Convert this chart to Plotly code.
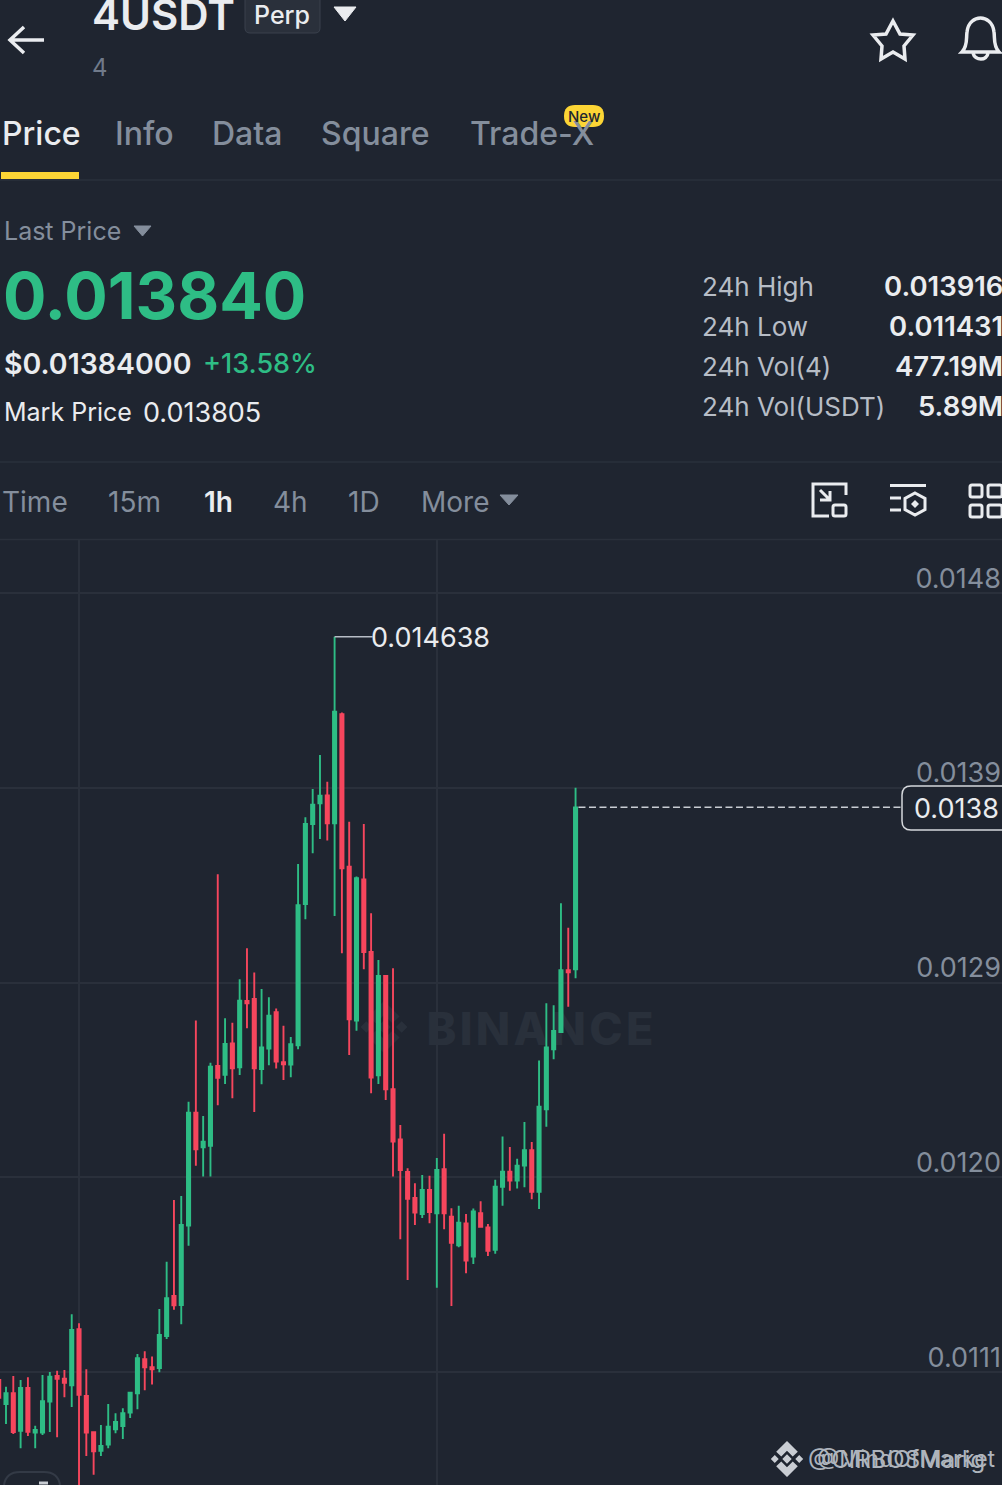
import plotly.graph_objects as go

W, H = 1002, 1485
BG = '#1F2530'
GRID = '#2A303B'
UP = '#2EBD85'
DOWN = '#F6465D'
WHITE = '#EAECEF'
GREY = '#848E9C'
FONT = 'Inter'

# hourly candles
open_prices = [0.011107, 0.010993, 0.011044, 0.010866, 0.011069, 0.010857, 0.010857, 0.011004, 0.011126, 0.011113,
               0.011082, 0.011348, 0.011031, 0.010859, 0.010771, 0.010800, 0.010873, 0.010888, 0.010952, 0.011044,
               0.011205, 0.011167, 0.011164, 0.011316, 0.011506, 0.011463, 0.011840, 0.012377, 0.012212, 0.012219,
               0.012599, 0.012556, 0.012706, 0.012592, 0.012907, 0.012917, 0.012584, 0.012681, 0.012854, 0.012617,
               0.012605, 0.012697, 0.013368, 0.013748, 0.013846, 0.013884, 0.013751, 0.014270, 0.013545, 0.012814,
               0.013485, 0.013140, 0.012554, 0.013026, 0.012488, 0.012250, 0.012095, 0.011971, 0.011895, 0.012009,
               0.011899, 0.012108, 0.011883, 0.011747, 0.011851, 0.011693, 0.011899, 0.011832, 0.011725, 0.012025,
               0.012096, 0.012054, 0.012125, 0.012198, 0.012001, 0.012393, 0.012678, 0.012760, 0.013054, 0.013058]
high_prices = [0.011169, 0.011075, 0.011126, 0.011107, 0.011120, 0.010890, 0.011131, 0.011145, 0.011151, 0.011154,
               0.011419, 0.011376, 0.011158, 0.010859, 0.010893, 0.010993, 0.010949, 0.010973, 0.011051, 0.011230,
               0.011243, 0.011218, 0.011444, 0.011669, 0.011962, 0.011981, 0.012429, 0.012814, 0.012361, 0.012614,
               0.013509, 0.012825, 0.012804, 0.013010, 0.013158, 0.013042, 0.012964, 0.012925, 0.012871, 0.012790,
               0.012736, 0.013558, 0.013780, 0.013914, 0.014076, 0.013949, 0.014638, 0.014277, 0.013759, 0.013498,
               0.013748, 0.013324, 0.013102, 0.013027, 0.013063, 0.012318, 0.012113, 0.012041, 0.012081, 0.012077,
               0.012161, 0.012277, 0.011923, 0.011935, 0.011895, 0.011921, 0.011956, 0.011848, 0.012058, 0.012263,
               0.012214, 0.012158, 0.012332, 0.012237, 0.012624, 0.012896, 0.012887, 0.013371, 0.013255, 0.013920]
low_prices = [0.011002, 0.010898, 0.010850, 0.010783, 0.010841, 0.010783, 0.010846, 0.010860, 0.010835, 0.011025,
              0.010979, 0.010584, 0.010746, 0.010657, 0.010746, 0.010783, 0.010854, 0.010827, 0.010926, 0.010968,
              0.011058, 0.011085, 0.011144, 0.011302, 0.011440, 0.011372, 0.011744, 0.012124, 0.012073, 0.012073,
              0.012412, 0.012513, 0.012445, 0.012556, 0.012778, 0.012380, 0.012512, 0.012602, 0.012586, 0.012532,
              0.012545, 0.012678, 0.013295, 0.013609, 0.013677, 0.013669, 0.013311, 0.013134, 0.012651, 0.012766,
              0.013058, 0.012469, 0.012513, 0.012437, 0.012073, 0.011775, 0.011582, 0.011843, 0.011876, 0.011851,
              0.011545, 0.011823, 0.011458, 0.011737, 0.011614, 0.011658, 0.011835, 0.011696, 0.011706, 0.011935,
              0.012006, 0.012016, 0.012022, 0.011965, 0.011919, 0.012310, 0.012630, 0.012760, 0.012880, 0.013015]
close_prices = [0.011022, 0.011044, 0.010860, 0.011069, 0.010861, 0.010869, 0.011006, 0.011123, 0.011113, 0.011094,
                0.011344, 0.011037, 0.010857, 0.010768, 0.010793, 0.010885, 0.010907, 0.010949, 0.011047, 0.011210,
                0.011167, 0.011158, 0.011321, 0.011495, 0.011462, 0.011843, 0.012377, 0.012203, 0.012239, 0.012595,
                0.012542, 0.012703, 0.012588, 0.012909, 0.012896, 0.012588, 0.012687, 0.012837, 0.012619, 0.012607,
                0.012702, 0.013362, 0.013748, 0.013840, 0.013882, 0.013751, 0.014281, 0.013538, 0.012820, 0.013490,
                0.013140, 0.012543, 0.013026, 0.012488, 0.012239, 0.012104, 0.011968, 0.011902, 0.012009, 0.011905,
                0.012104, 0.011899, 0.011759, 0.011854, 0.011674, 0.011908, 0.011835, 0.011721, 0.012025, 0.012096,
                0.012054, 0.012125, 0.012198, 0.012001, 0.012405, 0.012687, 0.012765, 0.013054, 0.013044, 0.013827]
candle_hours = list(range(len(close_prices)))

price_ticks = [0.014845, 0.013920, 0.012995, 0.012070, 0.011145]
price_labels = ['0.0148', '0.0139', '0.0129', '0.0120', '0.0111']
time_ticks = [11, 60]

tabs = [('Price', 0, WHITE), ('Info', 113, GREY), ('Data', 210, GREY), ('Square', 319, GREY), ('Trade-X', 468, GREY)]
stat_names = ['24h High', '24h Low', '24h Vol(4)', '24h Vol(USDT)']
stat_values = ['0.013916', '0.011431', '477.19M', '5.89M']
stat_rows = [286, 326, 366, 406]
intervals = [('Time', 0, GREY), ('15m', 106, GREY), ('1h', 202, WHITE), ('4h', 271, GREY), ('1D', 346, GREY), ('More', 419, GREY)]


def page_text(text, x, y, size, color, weight=400, anchor='left', shift=0):
    # x, y are page pixels, the overlay axes run 0-1002 and 1485-0
    fig.add_annotation(text=text, x=x, y=y, xref='x2', yref='y2', xanchor=anchor, yanchor='middle', xshift=shift,
                       showarrow=False, font=dict(family=FONT, size=size, color=color, weight=weight))


def page_path(path, color=None, width=0, fill=None):
    fig.add_shape(type='path', path=path, xref='x2', yref='y2', layer='above',
                  line=dict(color=color or 'rgba(0,0,0,0)', width=width), fillcolor=fill)


def round_box(x0, y0, x1, y1, r):
    return (f'M{x0 + r},{y0} L{x1 - r},{y0} Q{x1},{y0} {x1},{y0 + r} L{x1},{y1 - r} Q{x1},{y1} {x1 - r},{y1} '
            f'L{x0 + r},{y1} Q{x0},{y1} {x0},{y1 - r} L{x0},{y0 + r} Q{x0},{y0} {x0 + r},{y0} Z')


def logo_path(cx, cy, s, fx=lambda v: v, fy=lambda v: v):
    pieces = [[(0, -1), (.6, -.4), (.32, -.14), (0, -.46), (-.32, -.14), (-.6, -.4)],
              [(0, 1), (.6, .4), (.32, .14), (0, .46), (-.32, .14), (-.6, .4)],
              [(0, -.26), (.26, 0), (0, .26), (-.26, 0)],
              [(-.68, -.22), (-.46, 0), (-.68, .22), (-.9, 0)],
              [(.68, -.22), (.9, 0), (.68, .22), (.46, 0)]]
    out = ''
    for piece in pieces:
        pts = [f'{fx(cx + a * s):.5f},{fy(cy + b * s):.5f}' for a, b in piece]
        out += 'M' + ' L'.join(pts) + ' Z '
    return out


fig = go.Figure()
fig.add_trace(go.Candlestick(x=candle_hours, open=open_prices, high=high_prices, low=low_prices, close=close_prices,
                             increasing=dict(line=dict(color=UP, width=1.9), fillcolor=UP),
                             decreasing=dict(line=dict(color=DOWN, width=1.9), fillcolor=DOWN),
                             whiskerwidth=0, hoverinfo='skip', showlegend=False))
# empty trace so the page pixel axes exist
fig.add_trace(go.Scatter(x=[], y=[], xaxis='x2', yaxis='y2', showlegend=False))

fig.update_layout(
    width=W, height=H, margin=dict(l=0, r=0, t=0, b=0),
    paper_bgcolor=BG, plot_bgcolor='rgba(0,0,0,0)', showlegend=False, boxgap=0.38,
    xaxis=dict(range=[0.178, 137.4], domain=[0, 1], anchor='y', rangeslider=dict(visible=False),
               tickvals=time_ticks, showticklabels=False, showgrid=True, gridcolor=GRID, gridwidth=1.5,
               zeroline=False, showline=False, ticks=''),
    yaxis=dict(range=[0.010608, 0.015097], domain=[0, 945 / 1485], side='right', anchor='x',
               tickvals=price_ticks, ticktext=price_labels, ticklabelposition='inside top',
               ticklabelshift=4, ticklabelstandoff=-2,
               tickfont=dict(family=FONT, size=27, color=GREY), showgrid=True, gridcolor=GRID, gridwidth=1.5,
               zeroline=False, showline=False, ticks=''),
    xaxis2=dict(range=[0, W], domain=[0, 1], anchor='y2', visible=False, fixedrange=True),
    yaxis2=dict(range=[H, 0], domain=[0, 1], anchor='x2', visible=False, fixedrange=True),
)

# watermark under the candles, hair spaces open up the letters
fig.add_shape(type='rect', x0=420 / W, x1=660 / W, y0=1 - 1052 / H, y1=1 - 1002 / H, xref='paper', yref='paper',
              layer='below', line=dict(width=0), fillcolor='rgba(0,0,0,0)',
              label=dict(text='\u200a'.join('BINANCE'), textposition='middle center',
                         font=dict(family=FONT, size=45, color='#29303B', weight=800)))
fig.add_shape(type='path', xref='paper', yref='paper', layer='below', line=dict(width=0), fillcolor='#29303B',
              path=logo_path(384, 1027, 26, lambda v: v / W, lambda v: 1 - v / H))

# header
page_text('4USDT', 90, 14, 42, WHITE, 600)
page_path(round_box(245, -6, 320, 33, 5), '#3A414D', 1, '#2A303B')
page_text('Perp', 252, 15, 25, WHITE, 500)
page_path('M334,7 L356,7 L345,21 Z', WHITE, 1, WHITE)
page_text('4', 90, 67, 24, '#707A8A')
page_path('M44,40 L10,40 M24,27 L10,40 L24,53', WHITE, 3.5)
page_path('M893,21 L900,34 L913,35 L904,46 L905,59 L893,52 L881,59 L882,46 L873,35 L886,34 Z', WHITE, 3.5)
page_path('M962,52 C968,46 966,38 967,32 C968,22 975,18 980.5,18 C986,18 993,22 994,32 C995,38 993,46 999,52 Z', WHITE, 3.5)
page_path('M973,53 C975,61 987,61 988,53', WHITE, 3.5)

for name, x, color in tabs:
    page_text(name, x, 133, 32, color, 500)
page_path(round_box(564, 105, 604, 127, 11), fill='#FCD535')
page_text('New', 584, 116, 15, '#202630', 500, 'center')
page_path('M1,175.5 L79,175.5', '#FCD535', 7)
page_path('M0,180 L1002,180', GRID, 1.5)

page_text('Last Price', 2, 231, 25, GREY)
page_path('M134,226 L151,226 L142.5,236 Z', GREY, 1, GREY)
page_text('0.013840', 1, 296, 64.5, UP, 700)
page_text('$0.01384000', 2, 363, 28.5, WHITE, 600)
page_text('+13.58%', 201, 363, 27, UP, 500)
page_text('Mark Price', 2, 412, 25, WHITE)
page_text('0.013805', 141, 412, 27, WHITE)
for name, value, y in zip(stat_names, stat_values, stat_rows):
    page_text(name, 700, y, 26, '#B7BDC6')
    page_text(value, 1002, y, 27.5, WHITE, 600, 'right', 3)
page_path('M0,462 L1002,462', GRID, 1.5)

# interval bar
for name, x, color in intervals:
    page_text(name, x, 502, 28, color, 600 if name == '1h' else 400)
page_path('M500,495 L518,495 L509,505 Z', GREY, 1, GREY)
page_path('M846,495 L846,484 L813,484 L813,516 L829,516', WHITE, 3)
page_path(round_box(833, 505, 846, 516, 2), WHITE, 3)
page_path('M820,490 L830,500 M820,500 L830,500 L830,491', WHITE, 3)
page_path('M890,485.5 L926,485.5 M890,498 L901,498 M890,510 L901,510', WHITE, 3)
page_path('M915,493 L925,498.5 L925,509.5 L915,515 L905,509.5 L905,498.5 Z', WHITE, 3)
page_path('M915,500 L919,504 L915,508 L911,504 Z', fill=WHITE)
for x0, x1 in [(970, 982), (988, 1002)]:
    for y0, y1 in [(485, 497), (505, 517)]:
        page_path(round_box(x0, y0, x1, y1, 2), WHITE, 3)
page_path('M0,539.5 L1002,539.5', GRID, 1.5)

# highest high marker, drawn from the data
top = max(high_prices)
top_hour = high_prices.index(top)
fig.add_shape(type='line', xref='x', yref='y', x0=top_hour, x1=top_hour + 5.2, y0=top, y1=top,
              line=dict(color='#B7BDC6', width=1.5))
fig.add_annotation(x=top_hour + 5.2, y=top, xref='x', yref='y', text=f'{top:.6f}', showarrow=False, xanchor='left',
                   yanchor='middle', xshift=-4, yshift=-1, font=dict(family=FONT, size=27, color=WHITE))

# last price line and tag
last = close_prices[-1]
fig.add_shape(type='line', xref='x', yref='y', x0=candle_hours[-1] + 0.4, x1=124, y0=last, y1=last,
              line=dict(color='#C9CDD3', width=1.5, dash='7px,3.5px'))
page_path(round_box(902, 786, 1012, 830, 9), '#D5D8DC', 1.5, BG)
page_text('0.0138', 912, 808, 27, WHITE)

# piece of the floating button, bottom left
page_path('M4,1485 Q6,1472 20,1472 L44,1472 Q58,1472 60,1485', '#333A46', 2)
page_path('M39,1483 L48,1483', '#C9CDD3', 3)

# feed watermark, two handles printed on top of each other
page_path(logo_path(787, 1459, 18), fill='#C9CDD3')
page_text('@CIRBOSMarig', 806, 1459, 24, '#AEB4BC')
page_text('@MindOfMarket', 815, 1459, 23, '#AEB4BC')

fig.write_html("out.html", config={'displayModeBar': False},
               post_script="document.body.style.margin='0';document.body.style.overflow='hidden';")
